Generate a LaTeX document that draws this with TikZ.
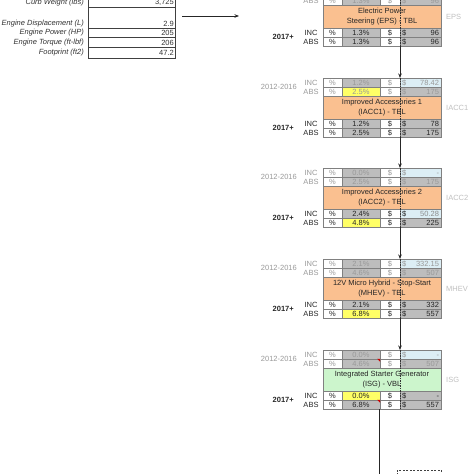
\documentclass[tikz,border=0pt]{standalone}
\usepackage{fontspec}
\setmainfont{Liberation Sans}
\usetikzlibrary{arrows.meta}

\definecolor{boxorange}{HTML}{FAC090}
\definecolor{boxgreen}{HTML}{CCF5CC}
\definecolor{cellgray}{HTML}{BDBDBD}
\definecolor{cellyellow}{HTML}{FFFF66}
\definecolor{cellblue}{HTML}{DCEEF5}

%% one INC / ABS line of a technology block
\newcommand{\costrow}[8]{%
  \node[rowlbl, #4] (#1-lbl) at (311,#2+4.5) {#3};
  \node[cell, minimum width=19pt, #4] (#1-pc) at (332.5,#2+4.5) {\%};
  \node[cell, minimum width=38pt, fill=#5, #4] (#1-pv) at (361,#2+4.5) {#6};
  \node[cell, minimum width=20pt, #4] (#1-dc) at (390,#2+4.5) {\$};
  \node[cell, minimum width=41pt, fill=#7] (#1-dv) at (420.5,#2+4.5) {};
  \node[celltxt, anchor=west, #4] (#1-ds) at (#1-dv.west) {\$};
  \node[celltxt, anchor=east, #4] (#1-dn) at (#1-dv.east) {#8};
}
%% technology name box and its short tag
\newcommand{\techbox}[5]{%
  \node[techbox, fill=#3] (#1-title) at (382,#2+29.5) {#4};
  \node[sidelbl] (#1-side) at (446,#2+29.5) {#5};
}
%% period labels and in/out points of a block
\newcommand{\blockframe}[2]{%
  \coordinate (#1-top) at (400,#2);
  \coordinate (#1-bot) at (400,#2+59);
  \node[period, old] (#1-early) at (297,#2+9) {2012-2016};
  \node[period, new, font=\fontsize{7.5}{9}\selectfont\bfseries] (#1-late) at (294,#2+50) {2017+};
}

\begin{document}
\begin{tikzpicture}[x=1pt, y=-1pt,
  every node/.style={font=\fontsize{7.5}{9}\selectfont},
  old/.style={text=black!40},
  new/.style={text=black!85},
  cell/.style={draw=black!50, line width=0.4pt, fill=white, inner sep=0pt,
    minimum height=9pt, text height=5.4pt, text depth=0.3pt},
  celltxt/.style={inner sep=2pt, text height=5.4pt, text depth=0.3pt},
  rowlbl/.style={inner sep=0pt},
  period/.style={anchor=east, inner sep=0pt},
  techbox/.style={draw=black!50, line width=0.4pt, text=black!85,
    minimum width=118pt, minimum height=23pt, inner sep=0pt, align=center,
    font=\fontsize{7.5}{10}\selectfont},
  sidelbl/.style={anchor=west, inner sep=0pt, text=black!25},
  divider/.style={dash pattern=on 1.5pt off 1pt, black!80, line width=0.5pt},
  flow/.style={-{Stealth[length=4.5pt, width=3.5pt]}, line width=0.6pt, black!85},
  tblline/.style={black!75, line width=0.5pt},
  speclbl/.style={anchor=east, inner sep=0pt, text=black!80,
    font=\fontsize{7.5}{9}\selectfont\itshape},
  specval/.style={anchor=east, inner sep=0pt, text=black!80}
]
\useasboundingbox (0,0) rectangle (474,474);

%% --- vehicle specification table ---
\draw[tblline] (88,-3) rectangle (175.5,58);
\draw[tblline] (88,7) -- (175.5,7);
\draw[tblline] (88,28) -- (175.5,28);
\draw[tblline] (88,37.5) -- (175.5,37.5);
\draw[tblline] (88,47) -- (175.5,47);
\node[speclbl] (curb-lbl) at (84,2.5) {Curb Weight (lbs)};
\node[specval] (curb-val) at (174,2.5) {3,725};
\node[speclbl] (disp-lbl) at (84,24) {Engine Displacement (L)};
\node[specval] (disp-val) at (174,24) {2.9};
\node[speclbl] (power-lbl) at (84,33) {Engine Power (HP)};
\node[specval] (power-val) at (174,33) {205};
\node[speclbl] (torque-lbl) at (84,42.5) {Engine Torque (ft-lbf)};
\node[specval] (torque-val) at (174,42.5) {206};
\node[speclbl] (foot-lbl) at (84,52.5) {Footprint (ft2)};
\node[specval] (foot-val) at (174,52.5) {47.2};

%% --- arrow into the technology chain ---
\coordinate (spec-out) at (182,16);
\coordinate (chain-in) at (239,16);
\draw[flow] (spec-out) -- (chain-in);

%% --- EPS ---
\blockframe{eps}{-13}
\costrow{eps-i1}{-13}{INC}{old}{cellgray}{1.3\%}{cellgray}{96}
\costrow{eps-a1}{-4}{ABS}{old}{cellgray}{1.3\%}{cellgray}{96}
\techbox{eps}{-13}{boxorange}{Electric Power\\Steering (EPS) - TBL}{EPS}
\costrow{eps-i2}{28}{INC}{new}{cellgray}{1.3\%}{cellgray}{96}
\costrow{eps-a2}{37}{ABS}{new}{cellgray}{1.3\%}{cellgray}{96}
\draw[divider] (eps-top) -- (eps-bot);

%% --- IACC1 ---
\blockframe{iacc1}{78}
\costrow{iacc1-i1}{78}{INC}{old}{cellgray}{1.2\%}{cellblue}{78.42}
\costrow{iacc1-a1}{87}{ABS}{old}{cellyellow}{2.5\%}{cellgray}{175}
\techbox{iacc1}{78}{boxorange}{Improved Accessories 1\\(IACC1) - TBL}{IACC1}
\costrow{iacc1-i2}{119}{INC}{new}{cellgray}{1.2\%}{cellgray}{78}
\costrow{iacc1-a2}{128}{ABS}{new}{cellgray}{2.5\%}{cellgray}{175}
\draw[divider] (iacc1-top) -- (iacc1-bot);

%% --- IACC2 ---
\blockframe{iacc2}{168}
\costrow{iacc2-i1}{168}{INC}{old}{cellgray}{0.0\%}{cellblue}{-}
\costrow{iacc2-a1}{177}{ABS}{old}{cellgray}{2.5\%}{cellgray}{175}
\techbox{iacc2}{168}{boxorange}{Improved Accessories 2\\(IACC2) - TBL}{IACC2}
\costrow{iacc2-i2}{209}{INC}{new}{cellgray}{2.4\%}{cellblue}{\textcolor{black!45}{50.28}}
\costrow{iacc2-a2}{218}{ABS}{new}{cellyellow}{4.8\%}{cellgray}{225}
\draw[divider] (iacc2-top) -- (iacc2-bot);

%% --- MHEV ---
\blockframe{mhev}{259}
\costrow{mhev-i1}{259}{INC}{old}{cellgray}{2.1\%}{cellblue}{332.15}
\costrow{mhev-a1}{268}{ABS}{old}{cellgray}{4.6\%}{cellgray}{507}
\techbox{mhev}{259}{boxorange}{12V Micro Hybrid - Stop-Start\\(MHEV) - TBL}{MHEV}
\costrow{mhev-i2}{300}{INC}{new}{cellgray}{2.1\%}{cellgray}{332}
\costrow{mhev-a2}{309}{ABS}{new}{cellyellow}{6.8\%}{cellgray}{557}
\draw[divider] (mhev-top) -- (mhev-bot);

%% --- ISG ---
\blockframe{isg}{350}
\costrow{isg-i1}{350}{INC}{old}{cellgray}{0.0\%}{cellblue}{-}
\costrow{isg-a1}{359}{ABS}{old}{cellgray}{4.6\%}{cellgray}{507}
\techbox{isg}{350}{boxgreen}{Integrated Starter Generator\\(ISG) - VBL}{ISG}
\costrow{isg-i2}{391}{INC}{new}{cellyellow}{0.0\%}{cellgray}{-}
\costrow{isg-a2}{400}{ABS}{new}{cellgray}{6.8\%}{cellgray}{557}
\draw[divider] (isg-top) -- (isg-bot);

%% --- comment marks ---
\fill[red!80!black] (isg-a1-pv.north east) -- ++(-3,0) -- ++(3,3) -- cycle;
\fill[red!80!black] (isg-a2-pv.north east) -- ++(-3,0) -- ++(3,3) -- cycle;

%% --- connectors between blocks ---
\draw[flow] (eps-bot) -- (iacc1-top);
\draw[flow] (iacc1-bot) -- (iacc2-top);
\draw[flow] (iacc2-bot) -- (mhev-top);
\draw[flow] (mhev-bot) -- (isg-top);

%% --- tail to next (cut off) block ---
\coordinate (isg-exit) at (379,409);
\coordinate (tail-end) at (379,474);
\draw[line width=0.6pt, black!85] (isg-exit) -- (tail-end);
\node[draw=black!75, dash pattern=on 2pt off 1.5pt, minimum width=44pt,
  minimum height=14pt, inner sep=0pt] (next-box) at (419,477) {};

\end{tikzpicture}
\end{document}
